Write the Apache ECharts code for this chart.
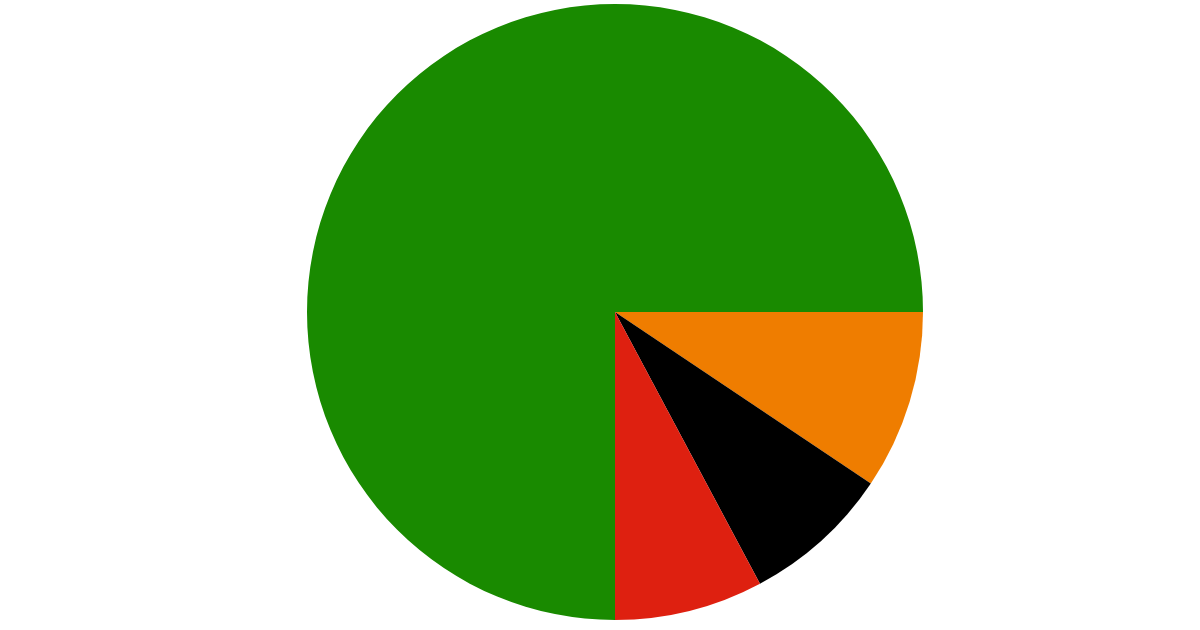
<!DOCTYPE html>
<html>
<head>
<meta charset="utf-8">
<script src="https://cdn.jsdelivr.net/npm/echarts@6/dist/echarts.min.js"></script>
<style>
html,body{margin:0;padding:0;background:#fff;}
#chart{width:1200px;height:630px;}
</style>
</head>
<body>
<div id="chart"></div>
<script>
const categories = ['Orange', 'Black', 'Red', 'Green'];
const values = [9.4, 7.8, 7.8, 75];
const colors = ['#EF7D00', '#000000', '#DE2010', '#198A00'];

const chart = echarts.init(document.getElementById('chart'), null, {renderer: 'canvas'});
chart.setOption({
  animation: false,
  backgroundColor: '#ffffff',
  series: [{
    type: 'pie',
    center: [615, 312],
    radius: 308,
    startAngle: 0,
    clockwise: true,
    label: {show: false},
    labelLine: {show: false},
    emphasis: {disabled: true},
    itemStyle: {borderWidth: 0},
    data: categories.map((c, i) => ({name: c, value: values[i], itemStyle: {color: colors[i]}}))
  }]
});
</script>
</body>
</html>
